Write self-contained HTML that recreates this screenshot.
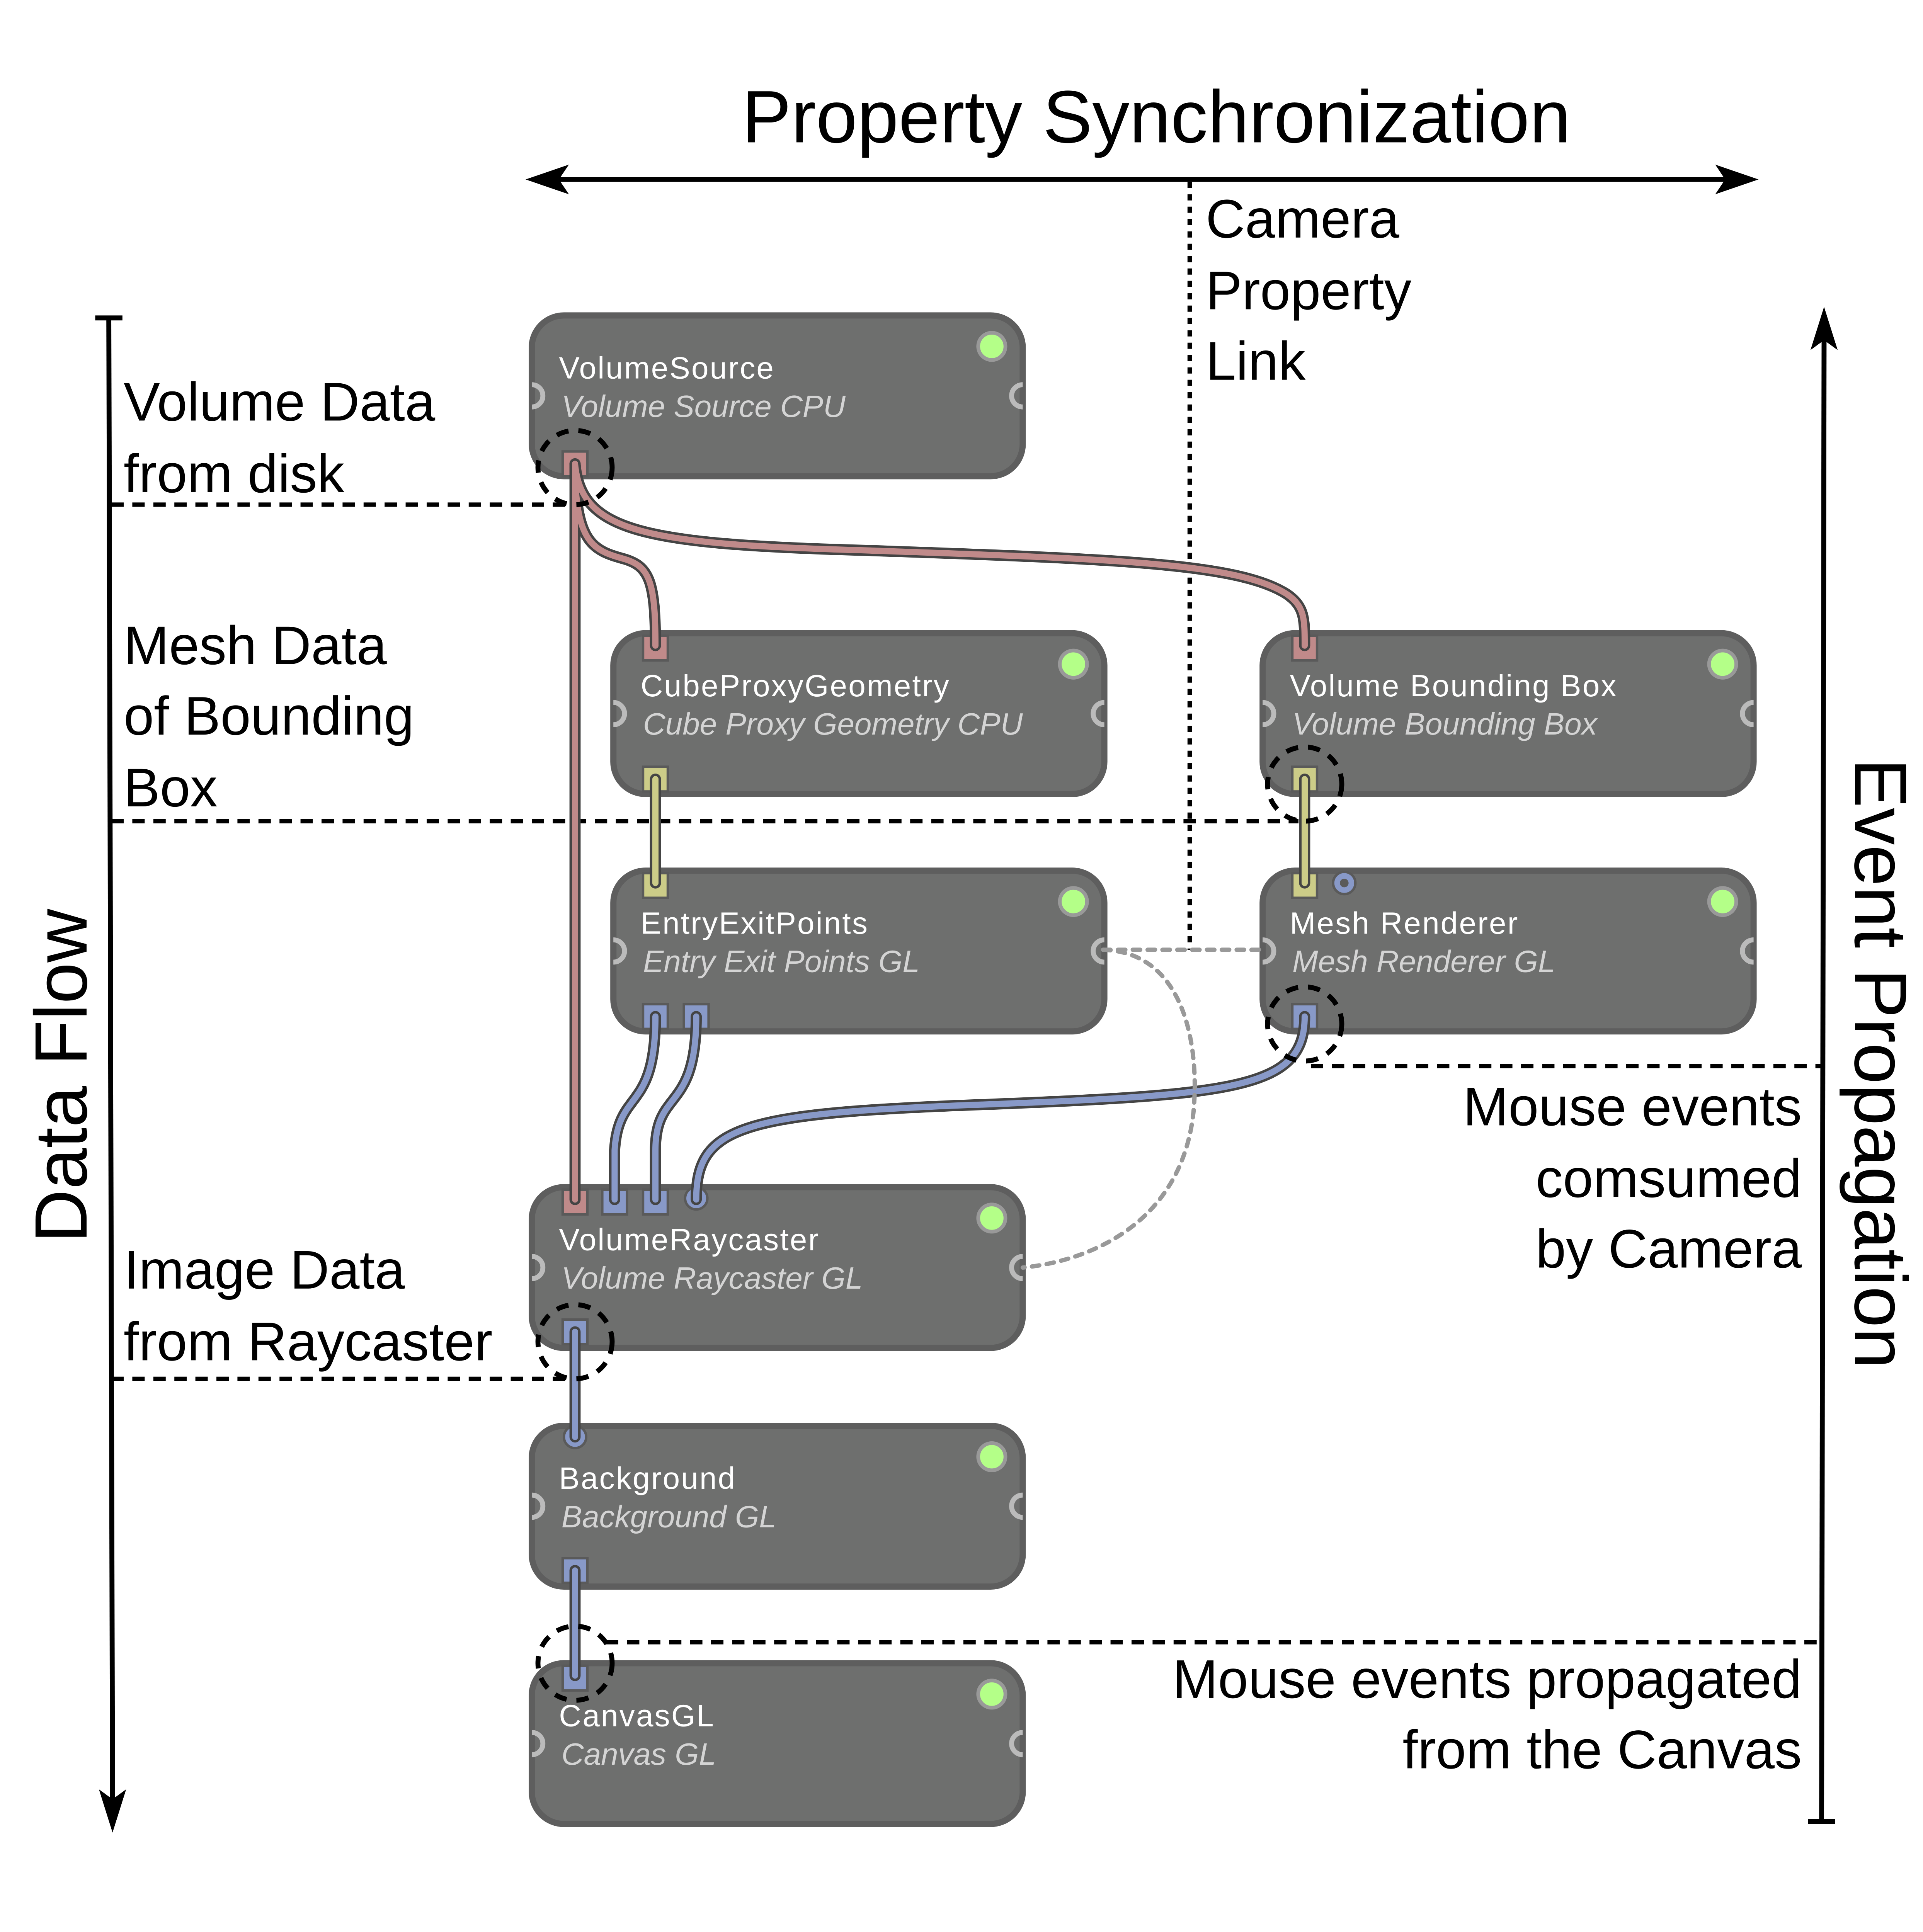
<!DOCTYPE html>
<html><head><meta charset="utf-8"><style>
html,body{margin:0;padding:0;background:#fff;width:4976px;height:5092px;overflow:hidden;position:relative;}
svg{display:block;position:absolute;left:0;top:0;}
</style></head><body>
<svg width="4976" height="5092" viewBox="0 0 1555 1591" xmlns="http://www.w3.org/2000/svg" font-family="'Liberation Sans', 'DejaVu Sans', sans-serif" overflow="hidden">
<defs>
<g id="node">
  <rect x="0" y="0" width="397" height="130" rx="26" fill="#6e6f6e" stroke="#5e5e5e" stroke-width="5"/>
  <circle cx="372" cy="25" r="11" fill="#b4ff88" stroke="#999" stroke-width="3"/>
  <path d="M0,56 a9,9 0 0 1 0,18" fill="none" stroke="#bbb" stroke-width="4"/>
  <path d="M397,56 a9,9 0 0 0 0,18" fill="none" stroke="#bbb" stroke-width="4"/>
</g>
</defs>

<text x="935" y="115" font-size="60" text-anchor="middle" fill="#000">Property Synchronization</text>
<line x1="445" y1="145" x2="1402" y2="145" stroke="#000" stroke-width="4"/>
<polygon points="425,145 460,133 452,145 460,157" fill="#000"/>
<polygon points="1422,145 1387,133 1395,145 1387,157" fill="#000"/>
<line x1="962" y1="147" x2="962" y2="768" stroke="#000" stroke-width="3.5" stroke-dasharray="5,5"/>
<g font-size="44" fill="#000">
<text x="975" y="192">Camera</text>
<text x="975" y="250">Property</text>
<text x="975" y="307">Link</text>
</g>

<line x1="88" y1="256" x2="91" y2="1460" stroke="#000" stroke-width="4"/>
<line x1="77" y1="257" x2="99" y2="257" stroke="#000" stroke-width="4"/>
<polygon points="91,1482 80,1447 91,1455 102,1447" fill="#000"/>
<text transform="translate(70,870) rotate(-90)" font-size="60" text-anchor="middle" fill="#000">Data Flow</text>

<line x1="1475" y1="270" x2="1473" y2="1473" stroke="#000" stroke-width="4"/>
<line x1="1462" y1="1473" x2="1484" y2="1473" stroke="#000" stroke-width="4"/>
<polygon points="1475,248 1464,283 1475,275 1486,283" fill="#000"/>
<text transform="translate(1500,860) rotate(90)" font-size="60" text-anchor="middle" fill="#000">Event Propagation</text>

<g stroke="#000" stroke-width="3.5" stroke-dasharray="10,7" fill="none">
<line x1="90" y1="408" x2="462" y2="408"/>
<line x1="90" y1="664" x2="1050" y2="664"/>
<line x1="90" y1="1115" x2="462" y2="1115"/>
<line x1="1060" y1="862" x2="1475" y2="862"/>
<line x1="490" y1="1328" x2="1475" y2="1328"/>
</g>

<g font-size="44" fill="#000">
<text x="100" y="340">Volume Data</text>
<text x="100" y="398">from disk</text>
<text x="100" y="537">Mesh Data</text>
<text x="100" y="594">of Bounding</text>
<text x="100" y="652">Box</text>
<text x="100" y="1042">Image Data</text>
<text x="100" y="1100">from Raycaster</text>
<g text-anchor="end">
<text x="1457" y="910">Mouse events</text>
<text x="1457" y="968">comsumed</text>
<text x="1457" y="1025">by Camera</text>
<text x="1457" y="1373">Mouse events propagated</text>
<text x="1457" y="1430">from the Canvas</text>
</g>
</g>

<use href="#node" x="430" y="255"/>
<use href="#node" x="496" y="512"/>
<use href="#node" x="1021" y="512"/>
<use href="#node" x="496" y="704"/>
<use href="#node" x="1021" y="704"/>
<use href="#node" x="430" y="960"/>
<use href="#node" x="430" y="1153"/>
<use href="#node" x="430" y="1345"/>

<g font-size="25" fill="#fff" letter-spacing="1">
<text x="452" y="306">VolumeSource</text>
<text x="518" y="563">CubeProxyGeometry</text>
<text x="1043" y="563">Volume Bounding Box</text>
<text x="518" y="755">EntryExitPoints</text>
<text x="1043" y="755">Mesh Renderer</text>
<text x="452" y="1011">VolumeRaycaster</text>
<text x="452" y="1204">Background</text>
<text x="452" y="1396">CanvasGL</text>
</g>
<g font-size="25" fill="#d4d4d4" font-style="italic">
<text x="454" y="337">Volume Source CPU</text>
<text x="520" y="594">Cube Proxy Geometry CPU</text>
<text x="1045" y="594">Volume Bounding Box</text>
<text x="520" y="786">Entry Exit Points GL</text>
<text x="1045" y="786">Mesh Renderer GL</text>
<text x="454" y="1042">Volume Raycaster GL</text>
<text x="454" y="1235">Background GL</text>
<text x="454" y="1427">Canvas GL</text>
</g>

<g stroke="#5a5a5a" stroke-width="2">
<rect x="455" y="365" width="20" height="20" fill="#c08a8a"/>
<rect x="520" y="514" width="20" height="20" fill="#c08a8a"/>
<rect x="1045" y="514" width="20" height="20" fill="#c08a8a"/>
<rect x="520" y="620" width="20" height="20" fill="#cccc88"/>
<rect x="1045" y="620" width="20" height="20" fill="#cccc88"/>
<rect x="520" y="706" width="20" height="20" fill="#cccc88"/>
<rect x="1045" y="706" width="20" height="20" fill="#cccc88"/>
<rect x="520" y="812" width="20" height="20" fill="#8899c8"/>
<rect x="553" y="812" width="20" height="20" fill="#8899c8"/>
<rect x="1045" y="812" width="20" height="20" fill="#8899c8"/>
<rect x="455" y="962" width="20" height="20" fill="#c08a8a"/>
<rect x="487" y="962" width="20" height="20" fill="#8899c8"/>
<rect x="520" y="962" width="20" height="20" fill="#8899c8"/>
<rect x="455" y="1067" width="20" height="20" fill="#8899c8"/>
<rect x="455" y="1260" width="20" height="20" fill="#8899c8"/>
<rect x="455" y="1347" width="20" height="20" fill="#8899c8"/>
</g>
<circle cx="563" cy="969" r="9" fill="#8899c8" stroke="#5a5a5a" stroke-width="2"/>
<circle cx="465" cy="1162" r="9" fill="#8899c8" stroke="#5a5a5a" stroke-width="2"/>
<circle cx="1087" cy="714" r="9" fill="#8899c8" stroke="#5a5a5a" stroke-width="2"/>
<circle cx="1087" cy="714" r="3.5" fill="#5a5a5a"/>

<g fill="none" stroke-linecap="round">
<g stroke="#444" stroke-width="9">
<path d="M465,375 L465,970"/>
<path d="M465,375 C465,440 480,445 505,452 C525,458 530,470 530,522"/>
<path d="M465,375 C470,430 520,440 700,445 C900,452 1000,455 1040,480 C1055,490 1055,500 1055,522"/>
<path d="M530,630 L530,714"/>
<path d="M1055,630 L1055,714"/>
<path d="M530,822 C530,900 500,880 497,930 L497,970"/>
<path d="M563,822 C563,900 530,880 530,930 L530,970"/>
<path d="M1055,822 C1055,880 1000,885 800,893 C600,900 563,910 563,970"/>
<path d="M465,1077 L465,1162"/>
<path d="M465,1270 L465,1355"/>
</g>
<g stroke-width="5">
<path stroke="#c08a8a" d="M465,375 L465,970"/>
<path stroke="#c08a8a" d="M465,375 C465,440 480,445 505,452 C525,458 530,470 530,522"/>
<path stroke="#c08a8a" d="M465,375 C470,430 520,440 700,445 C900,452 1000,455 1040,480 C1055,490 1055,500 1055,522"/>
<path stroke="#cccc88" d="M530,630 L530,714"/>
<path stroke="#cccc88" d="M1055,630 L1055,714"/>
<path stroke="#8899c8" d="M530,822 C530,900 500,880 497,930 L497,970"/>
<path stroke="#8899c8" d="M563,822 C563,900 530,880 530,930 L530,970"/>
<path stroke="#8899c8" d="M1055,822 C1055,880 1000,885 800,893 C600,900 563,910 563,970"/>
<path stroke="#8899c8" d="M465,1077 L465,1162"/>
<path stroke="#8899c8" d="M465,1270 L465,1355"/>
</g>
<g stroke="#999" stroke-width="3.5" stroke-dasharray="6,6">
<path d="M892,768 L1021,768"/>
<path d="M892,768 C960,770 970,850 965,900 C955,990 880,1020 827,1025"/>
</g>
</g>

<g fill="none" stroke="#000" stroke-width="4" stroke-dasharray="10,8">
<circle cx="465" cy="378" r="30"/>
<circle cx="1055" cy="634" r="30"/>
<circle cx="1055" cy="828" r="30"/>
<circle cx="465" cy="1085" r="30"/>
<circle cx="465" cy="1345" r="30"/>
</g>
</svg>
</body></html>
